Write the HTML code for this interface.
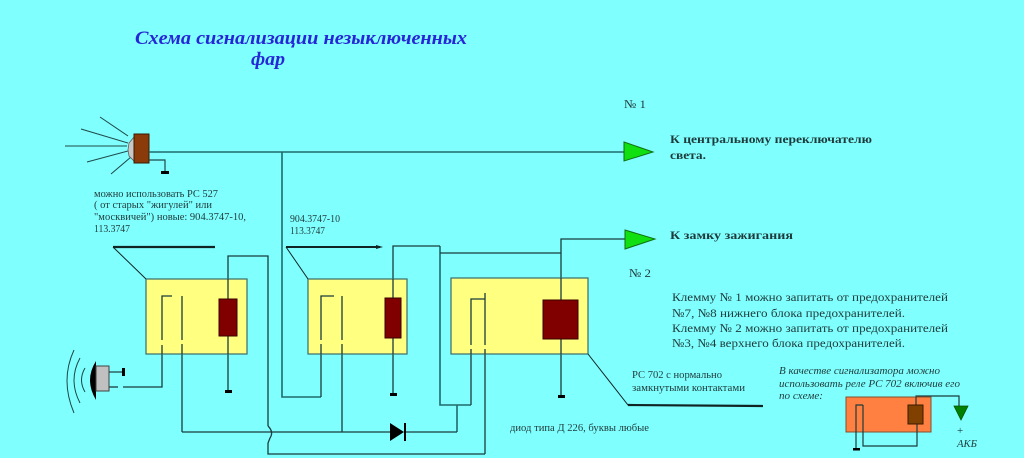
<!DOCTYPE html>
<html><head><meta charset="utf-8">
<style>
html,body{margin:0;padding:0;background:#80ffff;}
svg{display:block;}
text{font-family:"Liberation Serif","Noto Serif CJK SC",serif;fill:#1e3a3a;}
</style></head>
<body>
<svg width="1024" height="458" viewBox="0 0 1024 458" xmlns="http://www.w3.org/2000/svg">
<rect x="0" y="0" width="1024" height="458" fill="#80ffff"/>

<!-- Title -->
<text x="135" y="44" font-size="18.5" font-style="italic" font-weight="bold" style="fill:#2626d6" textLength="332" lengthAdjust="spacingAndGlyphs">Схема  сигнализации  незыключенных</text>
<text x="251" y="65" font-size="18.5" font-style="italic" font-weight="bold" style="fill:#2626d6" textLength="34" lengthAdjust="spacingAndGlyphs">фар</text>

<!-- Headlamp -->
<g stroke="#1e4848" stroke-width="1">
<line x1="100" y1="117" x2="128" y2="136"/>
<line x1="81" y1="129" x2="128" y2="143"/>
<line x1="65" y1="146" x2="127" y2="146"/>
<line x1="87" y1="162" x2="128" y2="151"/>
<line x1="111" y1="174" x2="131" y2="157"/>
</g>
<path d="M134 137 L129 143 L128 150 L129 156 L134 161 Z" fill="#c8c8c8" stroke="#606060" stroke-width="0.8"/>
<rect x="134" y="134" width="15" height="29" fill="#8b3a0a" stroke="#3a1a00" stroke-width="1"/>
<polyline points="149,160 165,160 165,172" fill="none" stroke="#1e4848" stroke-width="1.2"/>
<rect x="161" y="171" width="8" height="3" fill="#000"/>

<!-- Main wires (teal) -->
<g stroke="#1f6a6a" stroke-width="1.6" fill="none">
<line x1="149" y1="152" x2="625" y2="152"/>
<polyline points="282,152 282,397 321,397"/>
<polyline points="440,246 440,405 471,405"/>
<polyline points="457,432 457,405"/>
</g>

<!-- Dark wires -->
<g stroke="#1a3c3c" stroke-width="1.3" fill="none">
<!-- relay1 coil wire -->
<polyline points="228,392 228,256 268,256 268,426"/>
<path d="M268 426 Q274 432 270 438 L268 443"/>
<polyline points="268,443 268,454 485,454"/>
<!-- relay2 coil -->
<polyline points="393,395 393,246 440,246"/>
<polyline points="440,253 561,253"/>
<polyline points="561,397 561,239 626,239"/>
<!-- bottom line -->
<polyline points="182,432 390,432"/>
<polyline points="405,432 457,432"/>
<!-- relay1 contacts -->
<polyline points="172,296 162,296 162,340"/>
<polyline points="162,345 162,387 123,387"/>
<line x1="118" y1="387" x2="109" y2="387"/>
<line x1="182" y1="296" x2="182" y2="340"/>
<line x1="182" y1="344" x2="182" y2="432"/>
<!-- relay2 contacts -->
<polyline points="334,296 321,296 321,340"/>
<line x1="321" y1="344" x2="321" y2="397"/>
<line x1="342" y1="296" x2="342" y2="340"/>
<line x1="342" y1="344" x2="342" y2="432"/>
<!-- relay3 contacts -->
<polyline points="485,299 471,299 471,345"/>
<line x1="471" y1="349" x2="471" y2="405"/>
<line x1="485" y1="293" x2="485" y2="345"/>
<line x1="485" y1="349" x2="485" y2="454"/>
</g>

<!-- Relay boxes -->
<rect x="146" y="279" width="101" height="75" fill="#ffff80" stroke="#3a6a6a" stroke-width="1.2"/>
<rect x="308" y="279" width="99" height="75" fill="#ffff80" stroke="#3a6a6a" stroke-width="1.2"/>
<rect x="451" y="278" width="137" height="76" fill="#ffff80" stroke="#3a6a6a" stroke-width="1.2"/>

<!-- contacts redrawn over boxes -->
<g stroke="#1a3c3c" stroke-width="1.3" fill="none">
<polyline points="172,296 162,296 162,340"/>
<line x1="162" y1="345" x2="162" y2="354"/>
<line x1="182" y1="296" x2="182" y2="340"/>
<line x1="182" y1="344" x2="182" y2="354"/>
<polyline points="334,296 321,296 321,340"/>
<line x1="321" y1="344" x2="321" y2="354"/>
<line x1="342" y1="296" x2="342" y2="340"/>
<line x1="342" y1="344" x2="342" y2="354"/>
<polyline points="485,299 471,299 471,345"/>
<line x1="471" y1="349" x2="471" y2="354"/>
<line x1="485" y1="293" x2="485" y2="345"/>
<line x1="485" y1="349" x2="485" y2="354"/>
<line x1="228" y1="279" x2="228" y2="354"/>
<line x1="393" y1="279" x2="393" y2="354"/>
<line x1="561" y1="278" x2="561" y2="354"/>
</g>

<!-- Coils -->
<rect x="219" y="299" width="18" height="37" fill="#800000" stroke="#3a0000" stroke-width="1"/>
<rect x="385" y="298" width="16" height="40" fill="#800000" stroke="#3a0000" stroke-width="1"/>
<rect x="543" y="300" width="35" height="39" fill="#800000" stroke="#3a0000" stroke-width="1"/>

<!-- Grounds -->
<rect x="225" y="390" width="7" height="3" fill="#000"/>
<rect x="390" y="393" width="7" height="3" fill="#000"/>
<rect x="558" y="395" width="7" height="3" fill="#000"/>

<!-- Leaders (thick) -->
<g stroke="#102424" fill="none">
<line x1="113" y1="247" x2="215" y2="247" stroke-width="2.2"/>
<line x1="113" y1="247" x2="146" y2="279" stroke-width="1"/>
<line x1="286" y1="247" x2="380" y2="247" stroke-width="2"/>
<line x1="286" y1="247" x2="308" y2="279" stroke-width="1"/>
<polyline points="588,354 628,405 763,406" stroke-width="1"/>
<line x1="628" y1="405" x2="763" y2="406" stroke-width="2.2"/>
</g>
<path d="M376 245 L383 247 L376 249 Z" fill="#102424"/>

<!-- Diode -->
<path d="M390 423 L404 432 L390 441 Z" fill="#000"/>
<line x1="405" y1="423" x2="405" y2="441" stroke="#000" stroke-width="2"/>

<!-- Speaker -->
<g stroke="#1e4848" stroke-width="1" fill="none">
<path d="M74 350 Q60 380 74 413"/>
<path d="M80 358 Q68 380 80 403"/>
<path d="M85 368 Q78 380 85 392"/>
</g>
<path d="M96 361 Q84 380 96 400 Z" fill="#000"/>
<rect x="96" y="366" width="13" height="25" fill="#c0c0c0" stroke="#404040" stroke-width="1"/>
<line x1="109" y1="372" x2="123" y2="372" stroke="#1a3c3c" stroke-width="1.2"/>
<rect x="122" y="368" width="3" height="8" fill="#000"/>

<!-- Green arrows -->
<path d="M624 142 L653 152 L624 161 Z" fill="#10e010" stroke="#107010" stroke-width="1"/>
<path d="M625 230 L655 239 L625 249 Z" fill="#10e010" stroke="#107010" stroke-width="1"/>

<!-- Orange relay (signaler) -->
<polyline points="916,405 916,396 959,396 959,406" fill="none" stroke="#1a3c3c" stroke-width="1.2"/>
<rect x="846" y="397" width="85" height="35" fill="#ff8040" stroke="#805030" stroke-width="1"/>
<g stroke="#1a3c3c" stroke-width="1.2" fill="none">
<polyline points="863,405 856,405 856,449"/>
<polyline points="863,405 863,446 917,446 917,424"/>
<line x1="916" y1="397" x2="916" y2="405"/>
</g>
<rect x="908" y="405" width="15" height="19" fill="#804000" stroke="#3a1a00" stroke-width="1"/>
<rect x="853" y="448" width="7" height="2.5" fill="#000"/>
<path d="M954 406 L968 406 L961 420 Z" fill="#008000" stroke="#005000" stroke-width="0.8"/>

<!-- Labels -->
<text x="624" y="108" font-size="12" textLength="22" lengthAdjust="spacingAndGlyphs">№ 1</text>
<text x="670" y="143" font-size="12" font-weight="bold" textLength="202" lengthAdjust="spacingAndGlyphs">К   центральному переключателю</text>
<text x="670" y="159" font-size="12" font-weight="bold" textLength="36" lengthAdjust="spacingAndGlyphs">света.</text>
<text x="670" y="239" font-size="12" font-weight="bold" textLength="123" lengthAdjust="spacingAndGlyphs">К   замку  зажигания</text>
<text x="629" y="277" font-size="12" textLength="22" lengthAdjust="spacingAndGlyphs">№ 2</text>

<text x="672" y="301" font-size="12" textLength="276" lengthAdjust="spacingAndGlyphs">Клемму № 1 можно запитать от предохранителей</text>
<text x="672" y="317" font-size="12" textLength="233" lengthAdjust="spacingAndGlyphs">№7, №8 нижнего блока предохранителей.</text>
<text x="672" y="332" font-size="12" textLength="276" lengthAdjust="spacingAndGlyphs">Клемму № 2 можно запитать от предохранителей</text>
<text x="672" y="347" font-size="12" textLength="233" lengthAdjust="spacingAndGlyphs">№3, №4 верхнего блока предохранителей.</text>

<text x="94" y="197" font-size="10.5" textLength="124" lengthAdjust="spacingAndGlyphs">можно использовать РС 527</text>
<text x="94" y="208" font-size="10.5" textLength="118" lengthAdjust="spacingAndGlyphs">( от старых "жигулей" или</text>
<text x="94" y="220" font-size="10.5" textLength="152" lengthAdjust="spacingAndGlyphs">"москвичей") новые: 904.3747-10,</text>
<text x="94" y="232" font-size="10.5" textLength="36" lengthAdjust="spacingAndGlyphs">113.3747</text>

<text x="290" y="222" font-size="10.5" textLength="50" lengthAdjust="spacingAndGlyphs">904.3747-10</text>
<text x="290" y="234" font-size="10.5" textLength="35" lengthAdjust="spacingAndGlyphs">113.3747</text>

<text x="632" y="378" font-size="10" textLength="90" lengthAdjust="spacingAndGlyphs">РС 702 с нормально</text>
<text x="632" y="391" font-size="10" textLength="113" lengthAdjust="spacingAndGlyphs">замкнутыми контактами</text>

<text x="510" y="431" font-size="10" textLength="139" lengthAdjust="spacingAndGlyphs">диод типа Д 226, буквы  любые</text>

<text x="779" y="374" font-size="10" font-style="italic" textLength="161" lengthAdjust="spacingAndGlyphs">В качестве сигнализатора можно</text>
<text x="779" y="387" font-size="10" font-style="italic" textLength="181" lengthAdjust="spacingAndGlyphs">использовать реле РС 702 включив его</text>
<text x="779" y="399" font-size="10" font-style="italic" textLength="44" lengthAdjust="spacingAndGlyphs">по схеме:</text>

<text x="957" y="434" font-size="11">+</text>
<text x="957" y="447" font-size="10" font-style="italic" textLength="20" lengthAdjust="spacingAndGlyphs">АКБ</text>
</svg>
</body></html>
